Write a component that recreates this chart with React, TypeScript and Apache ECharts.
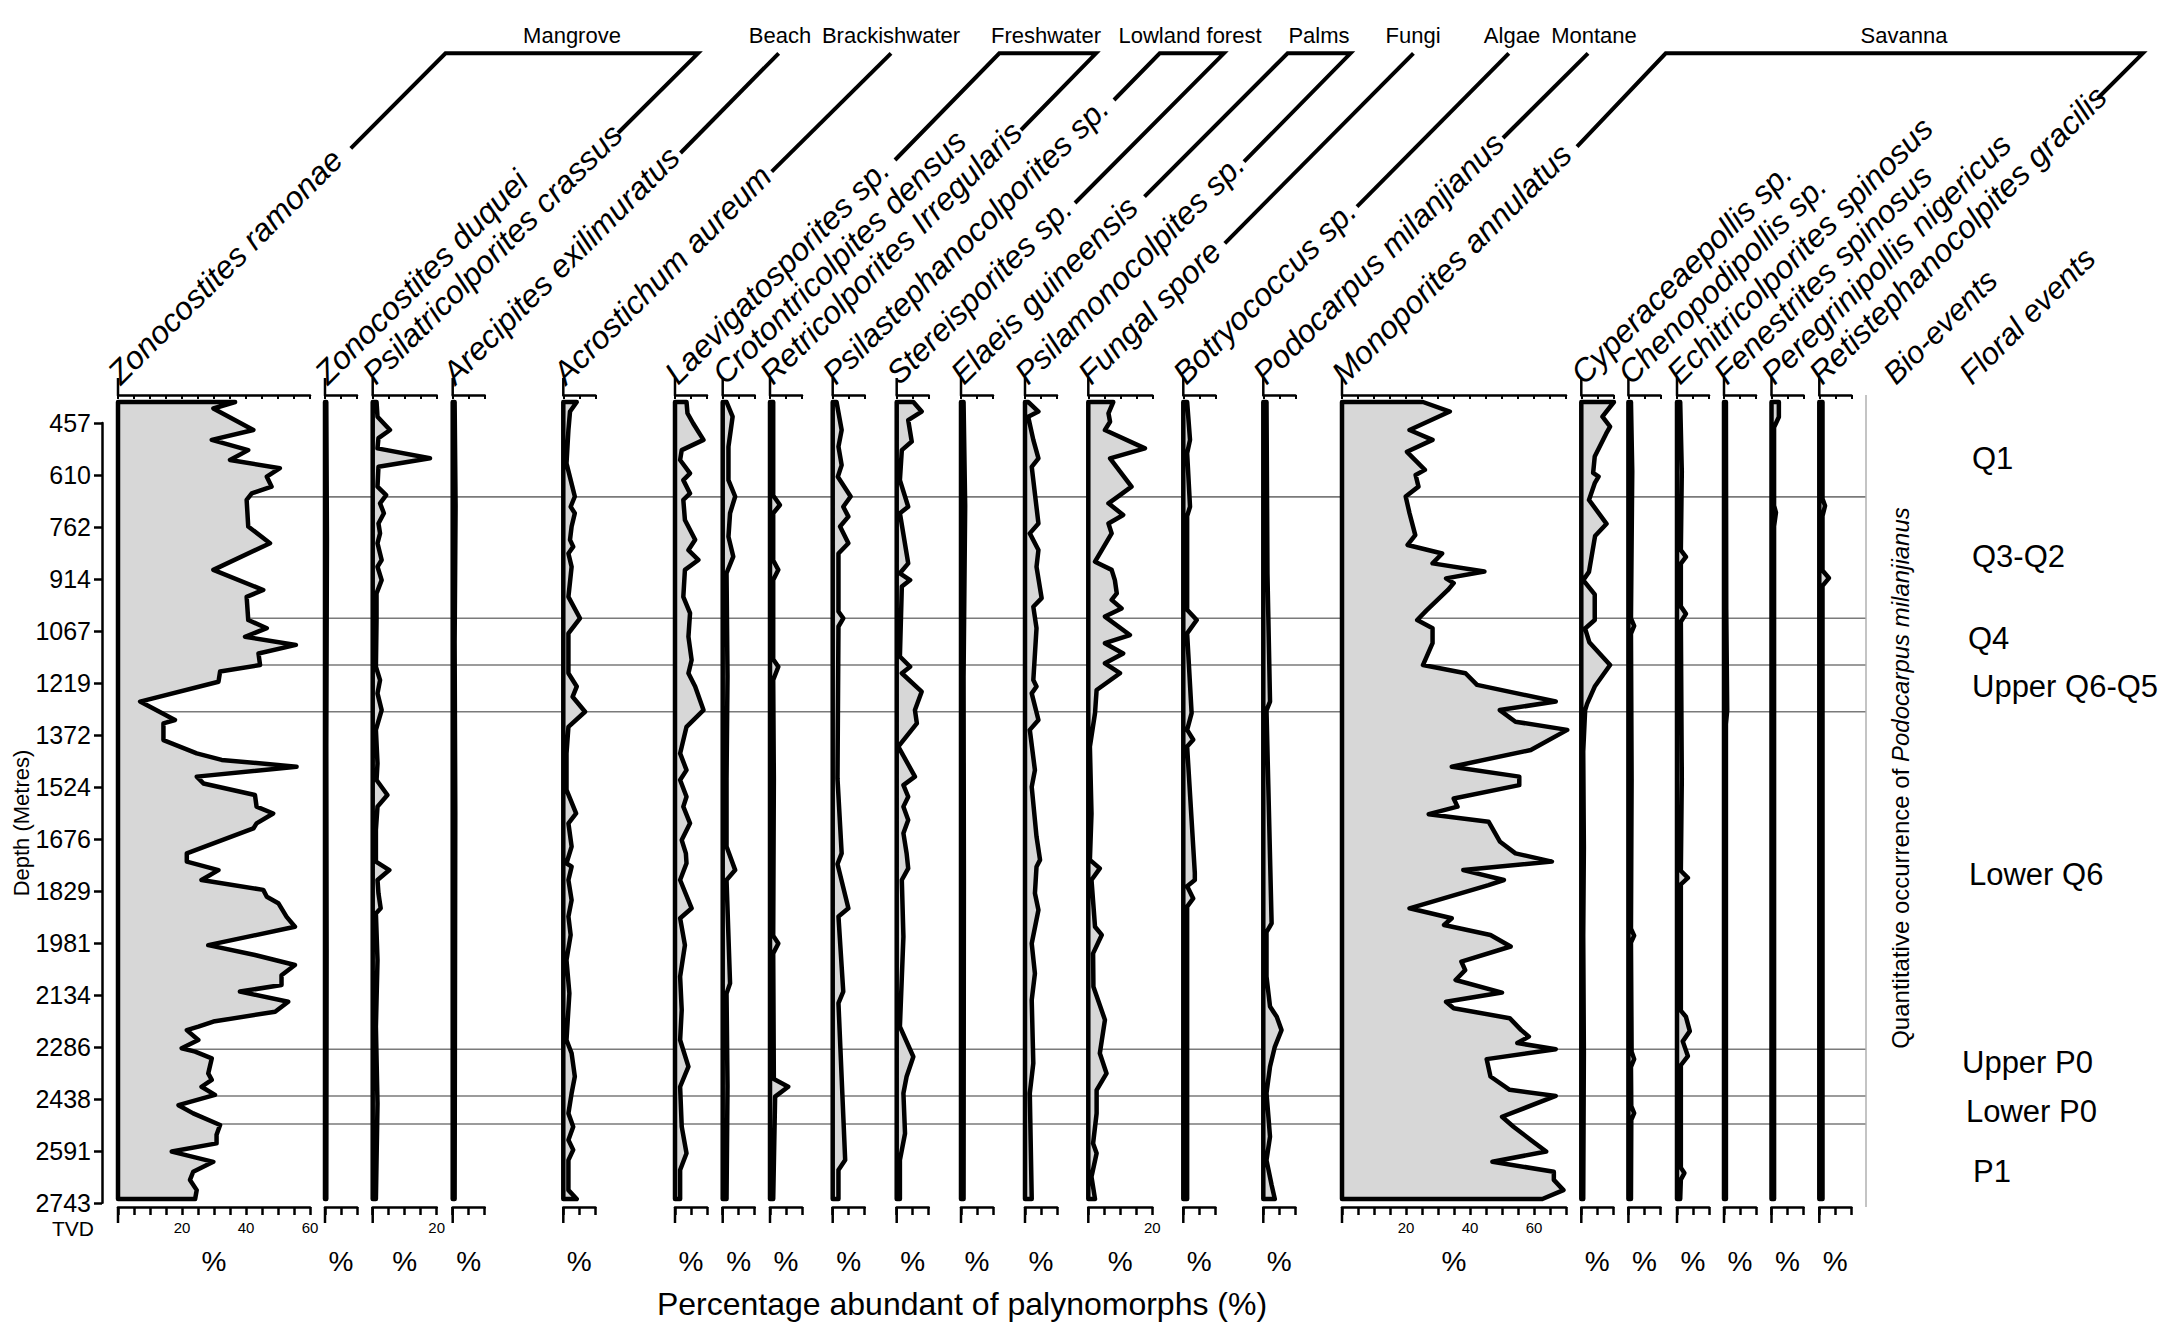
import React, { useEffect, useRef } from 'react';
import * as echarts from 'echarts';

// ---------------- DATA ----------------
const TAXA = [
  'Zonocostites ramonae', 'Zonocostites duquei', 'Psilatricolporites crassus', 'Arecipites exilimuratus',
  'Acrostichum aureum', 'Laevigatosporites sp.', 'Crotontricolpites densus', 'Retricolporites Irregularis',
  'Psilastephanocolporites sp.', 'Stereisporites sp.', 'Elaeis guineensis', 'Psilamonocolpites sp.',
  'Fungal spore', 'Botryococcus sp.', 'Podocarpus milanjianus', 'Monoporites annulatus',
  'Cyperaceaepollis sp.', 'Chenopodipollis sp.', 'Echitricolporites spinosus', 'Fenestrites spinosus',
  'Peregrinipollis nigericus', 'Retistephanocolpites gracilis',
];
const AXIS_MAX = [60, 10, 20, 10, 10, 10, 10, 10, 10, 10, 10, 10, 20, 10, 10, 70, 10, 10, 10, 10, 10, 10];

// [depth (m), percentage]
const zonocostitesRamonae = [[396,36.6],[415,29.8],[478,42.3],[507,29.3],[537,40.7],[566,35],[590,50.6],[615,46.5],[644,48],[664,41.8],[683,40.2],[761,40.7],[810,47.5],[888,29.8],[947,45.4],[967,40.2],[1035,40.7],[1059,46.5],[1084,39.7],[1108,55.6],[1133,43.9],[1167,44.4],[1186,31.9],[1216,31.4],[1274,6.9],[1328,17.8],[1338,14.2],[1387,14.2],[1426,24.6],[1445,32.4],[1465,55.8],[1494,24.6],[1514,26.7],[1548,42.8],[1582,43.3],[1602,48.5],[1631,43.3],[1646,42.3],[1719,21.5],[1743,21.5],[1768,31.4],[1797,26.1],[1826,45.4],[1846,46.5],[1865,50.1],[1905,52.7],[1934,55.3],[1988,28.2],[2017,42.8],[2046,55.3],[2076,51.1],[2105,51.1],[2124,38.1],[2154,53.2],[2183,49.1],[2212,29.8],[2227,25.1],[2237,21.5],[2266,25.1],[2290,19.9],[2300,24.1],[2320,29.3],[2364,28.2],[2383,29.3],[2403,26.1],[2427,30.3],[2457,18.9],[2481,23.5],[2515,31.9],[2544,30.8],[2569,30.8],[2593,16.8],[2623,29.8],[2652,23.5],[2676,22.5],[2706,24.6],[2732,24.1]];
const zonocostitesDuquei = [[396,0.4],[800,0.6],[1400,0.4],[2000,0.5],[2732,0.4]];
const psilatricolporitesCrassus = [[396,1.2],[439,1.5],[478,5.4],[502,1.8],[532,1.5],[561,17.9],[586,1.8],[644,1.5],[669,4.2],[693,2.3],[722,3.5],[752,1.8],[781,2.3],[810,1.5],[859,2.8],[879,1.5],[918,2.8],[957,1.2],[1035,1.2],[1172,1.0],[1211,2.3],[1250,1.5],[1299,2.8],[1357,1.0],[1455,1.5],[1504,1.2],[1548,4.6],[1582,1.5],[1650,1.0],[1743,1.0],[1768,5.2],[1797,1.5],[1836,1.8],[1880,2.5],[1895,1.0],[2032,1.5],[2227,1.0],[2452,1.5],[2732,1.0]];
const arecipitesExilimuratus = [[396,0.6],[700,0.9],[1100,0.6],[1600,0.8],[2732,0.6]];
const acrostichumAureum = [[396,4.2],[424,2.1],[478,1.6],[576,1],[673,3.6],[703,2.3],[722,3.6],[761,2.6],[800,2.1],[820,3.1],[840,1.6],[879,2.6],[967,1.6],[1030,5.2],[1074,1.6],[1191,1.6],[1230,4.2],[1260,2.9],[1304,6.8],[1348,1.6],[1426,1],[1533,1],[1602,4],[1631,1.6],[1699,2.6],[1748,1],[1758,2.6],[1797,1.6],[1856,2.6],[1904,1.6],[1958,2.3],[2032,1],[2129,1.9],[2266,1],[2305,2.6],[2373,3.6],[2422,2.6],[2481,1.6],[2520,3.1],[2559,1.6],[2588,3.1],[2618,1.6],[2706,1.6],[2732,4.2]];
const laevigatosporites = [[396,3.6],[429,3.9],[459,5.7],[507,8.9],[537,2.1],[566,1.6],[605,4.7],[625,2.6],[664,4.7],[683,2.6],[742,3.1],[800,6.3],[830,4.2],[859,7.3],[888,3.1],[967,2.6],[1015,4.7],[1084,4.2],[1152,5.2],[1191,4.2],[1230,6.3],[1299,8.9],[1348,3.6],[1426,1.6],[1475,3.6],[1504,1.6],[1553,3.6],[1582,2.6],[1631,4.7],[1680,2.1],[1719,3.4],[1748,3.6],[1797,1.6],[1880,5.2],[1909,1.6],[1988,3.1],[2080,1.6],[2178,2.1],[2266,1.6],[2344,4.2],[2403,1.6],[2520,2.1],[2598,3.6],[2647,1.6],[2732,1.6]];
const crotontricolpitesDensus = [[396,1.2],[439,3.1],[527,1.8],[625,1.8],[673,3.9],[722,2.3],[791,1.8],[849,3.3],[898,1.2],[1200,1.5],[1500,1.2],[1699,1.2],[1768,3.9],[1797,1.2],[2100,2.3],[2130,1.2],[2400,1.5],[2732,1.2]];
const retricolporitesIrregularis = [[396,1],[670,1],[698,3.1],[722,1],[860,1],[888,2.6],[918,1],[1150,1],[1172,2.6],[1211,1],[1500,1.2],[1960,1],[1983,2.6],[2012,1],[2380,1.2],[2403,5.7],[2432,1.6],[2732,1]];
const psilastephanocolporites = [[396,1.2],[478,2.8],[527,1.8],[581,2.8],[615,1.6],[673,5.6],[703,3.3],[732,4.9],[761,2.3],[810,4.9],[840,1.8],[1010,1.8],[1030,3.3],[1054,1.8],[1500,1.5],[1719,2.8],[1750,1.5],[1880,4.9],[1904,1.8],[2124,3.3],[2158,1.8],[2618,3.9],[2647,1.8],[2732,1.8]];
const stereisporites = [[396,5.2],[424,7.8],[449,3.6],[512,4.7],[537,1.6],[625,1],[703,3.6],[722,1],[869,3.6],[898,1],[918,4.2],[937,1.6],[1142,1],[1172,4.2],[1191,1.6],[1245,7.8],[1299,5.7],[1338,6.3],[1406,0.5],[1494,5.7],[1519,2.1],[1553,3.6],[1582,2.1],[1621,3.6],[1660,2.1],[1719,3.1],[1763,3.6],[1797,1.6],[1963,2.1],[2227,1],[2315,5.2],[2373,3.1],[2422,2.1],[2540,2.6],[2618,1],[2732,1]];
const elaeisGuineensis = [[396,0.8],[700,1.3],[1200,0.8],[1800,0.9],[2732,0.8]];
const psilamonocolpites = [[396,1],[424,4.2],[439,1],[507,2.6],[561,4.2],[586,2.1],[752,4.2],[781,1.5],[830,4.2],[879,3.6],[971,5.2],[996,2.6],[1059,3.6],[1211,2.6],[1230,3.6],[1250,2.1],[1328,4.2],[1357,1.5],[1475,3.1],[1524,2.1],[1670,3.6],[1738,4.7],[1758,3.6],[1836,3.1],[1885,4.2],[1983,2.1],[2071,3.1],[2149,2.1],[2334,2.6],[2422,1.5],[2732,2.1]];
const fungalSpore = [[396,7.8],[429,6.3],[454,6.8],[478,5.2],[532,17.7],[561,6.8],[644,13.5],[669,9.9],[693,6.3],[727,10.9],[752,6.3],[781,7.3],[864,2.1],[888,7.3],[918,8.3],[957,8.9],[976,7.3],[1001,10.4],[1025,5.2],[1079,13],[1103,5.2],[1133,10.9],[1162,5.2],[1191,9.9],[1240,2.6],[1308,2.1],[1406,0.5],[1602,1],[1738,0.5],[1763,3.6],[1797,1],[1934,2.1],[1958,4.2],[2012,1.5],[2110,1.6],[2207,5.2],[2305,3.6],[2364,5.7],[2413,2.6],[2481,2.6],[2569,1.5],[2598,2.6],[2667,1],[2732,2.1]];
const botryococcus = [[396,1.2],[507,2.1],[546,1.2],[703,2.1],[730,1.2],[1005,1.2],[1035,4.2],[1074,1.2],[1308,2.6],[1357,1.2],[1386,3.1],[1406,1.2],[1777,3.6],[1797,3.6],[1815,1.2],[1851,3.1],[1875,1.2],[2732,1.2]];
const podocarpusMilanjianus = [[396,1],[900,1.3],[1274,2.1],[1300,1],[1924,2.6],[1950,1],[2080,1],[2168,2.1],[2198,4.2],[2237,5.7],[2286,3.6],[2344,2.1],[2422,1],[2549,2.1],[2618,1],[2691,2.6],[2732,3.6]];
const monoporitesAnnulatus = [[396,25.3],[424,33.7],[478,21.1],[507,28.3],[542,20.3],[595,25.9],[610,23],[644,23.9],[673,19.9],[722,21.1],[786,22.9],[815,20.5],[840,31.3],[869,28.3],[893,44.5],[913,32.5],[927,34.9],[947,33.1],[1006,26.5],[1035,23.5],[1059,28.3],[1103,28.3],[1167,25.3],[1191,38.6],[1225,42.2],[1274,66.8],[1299,49.3],[1333,54.2],[1357,70.4],[1416,59],[1465,34.3],[1494,55.4],[1519,55.4],[1558,34.9],[1582,36.1],[1604,27.1],[1626,45.8],[1685,49.4],[1719,54.2],[1743,65.6],[1768,37.9],[1797,50.6],[1812,45.8],[1880,21.1],[1909,34.3],[1929,31.9],[1958,46.4],[1992,52.7],[2036,37.3],[2061,38.5],[2090,35.5],[2127,50],[2154,32.5],[2173,34.9],[2202,52.4],[2237,56],[2256,58.4],[2275,54.8],[2293,66.8],[2322,45.2],[2373,46.4],[2412,52.4],[2430,66.8],[2491,50],[2520,53.6],[2559,59],[2593,63.8],[2623,47],[2652,66.2],[2676,66.2],[2706,69.2],[2732,62.6]];
const cyperaceaepollis = [[396,10.2],[439,6.6],[468,9.0],[488,7.8],[556,4.2],[604,3.7],[615,5.4],[634,4.2],[683,2.4],[753,7.9],[789,4.3],[894,2.4],[918,0.6],[960,4.2],[1035,4.2],[1060,1.2],[1100,2.5],[1167,9.0],[1230,4.2],[1281,1.8],[1299,1.2],[1420,0.6],[1700,0.8],[1960,0.6],[2300,0.8],[2732,0.6]];
const chenopodipollis = [[396,0.8],[600,1.2],[1030,0.8],[1052,1.8],[1075,0.8],[1500,1],[1940,0.8],[1960,1.8],[1980,0.8],[2300,1],[2322,1.8],[2345,0.8],[2460,0.9],[2480,1.8],[2500,0.9],[2732,0.8]];
const echitricolporites = [[396,1],[600,1.5],[830,1.2],[850,2.8],[870,1.2],[995,1.2],[1017,2.8],[1040,1.2],[1500,1.5],[1770,1.2],[1791,3.4],[1810,1.2],[2180,1.2],[2198,2.8],[2240,4],[2270,1.8],[2313,3.4],[2340,1.2],[2640,1.2],[2656,2.3],[2675,1.2],[2732,1]];
const fenestrites = [[396,0.6],[1000,0.7],[1300,1],[1340,0.6],[2732,0.6]];
const peregrinipollis = [[396,2.3],[440,2.3],[470,0.8],[700,0.8],[720,1.4],[760,0.8],[2732,0.8]];
const retistephanocolpites = [[396,1],[680,1],[700,1.8],[730,1],[890,1],[912,3],[935,1],[1500,1],[2732,1]];

const SERIES_DATA = [
  zonocostitesRamonae, zonocostitesDuquei, psilatricolporitesCrassus, arecipitesExilimuratus,
  acrostichumAureum, laevigatosporites, crotontricolpitesDensus, retricolporitesIrregularis,
  psilastephanocolporites, stereisporites, elaeisGuineensis, psilamonocolpites,
  fungalSpore, botryococcus, podocarpusMilanjianus, monoporitesAnnulatus,
  cyperaceaepollis, chenopodipollis, echitricolporites, fenestrites,
  peregrinipollis, retistephanocolpites,
];

const DEPTH_TICKS = ['457', '610', '762', '914', '1067', '1219', '1372', '1524', '1676', '1829', '1981', '2134', '2286', '2438', '2591', '2743'];
const EVENT_DEPTHS = [674, 1030, 1167, 1304, 2293, 2430, 2512];
const EVENT_LABELS = ['Q1', 'Q3-Q2', 'Q4', 'Upper Q6-Q5', 'Lower Q6', 'Upper P0', 'Lower P0', 'P1'];

const GROUPS = ['Mangrove', 'Beach', 'Brackishwater', 'Freshwater', 'Lowland forest', 'Palms', 'Fungi', 'Algae', 'Montane', 'Savanna'];

// ---------------- LAYOUT ----------------
const PANEL_LEFT = [118, 325, 372.7, 452.7, 563.3, 675, 722.7, 770, 832.7, 896.7, 961, 1025, 1088.3, 1183.3, 1263.3, 1342, 1581.3, 1628.4, 1677, 1724, 1771.5, 1819.3];
const PX_PER_PCT = 3.2;
const GRID_TOP = 402;
const GRID_H = 797;
const Y_MIN = 396;
const Y_MAX = 2732;
const RIGHT_EDGE = 1866;
const FONT = '"Liberation Sans", Arial, sans-serif';

const GROUP_LABEL_X = [572, 780, 891, 1046, 1190, 1319, 1413, 1512, 1594, 1904];
const GROUP_LINES = [
  [[350.8, 148.3], [445.5, 53.3], [698, 53.3], [618, 133]],
  [[680.5, 153], [778.7, 53.3]],
  [[771.7, 171.7], [891, 53.3]],
  [[895, 160], [999.3, 53.3], [1096, 53.3], [1021, 130]],
  [[1114, 100], [1159.7, 53.3], [1223.9, 53.3], [1075, 203]],
  [[1144.5, 196.7], [1287.6, 53.3], [1350.5, 53.3], [1244, 161.7]],
  [[1224.8, 243.3], [1413.4, 53.3]],
  [[1357, 206.7], [1508.8, 53.3]],
  [[1503, 138], [1588, 53.3]],
  [[1577, 146.7], [1665.7, 53.3], [2142.8, 53.3], [2098, 98]],
];
const EVENT_LABEL_POS = [[1972, 458], [1972, 556], [1968, 638], [1972, 686], [1969, 874], [1962, 1062], [1966, 1111], [1973, 1171]];

function yOf(d: number) {
  return GRID_TOP + ((d - Y_MIN) / (Y_MAX - Y_MIN)) * GRID_H;
}

function buildOption() {
  const n = TAXA.length;
  const grid: any[] = [];
  const xAxis: any[] = [];
  const yAxis: any[] = [];
  const series: any[] = [];
  const graphic: any[] = [];

  const axisLineStyle = { color: '#000', width: 2.5 };

  for (let i = 0; i < n; i++) {
    const w = AXIS_MAX[i] * PX_PER_PCT;
    grid.push({ left: PANEL_LEFT[i], top: GRID_TOP, width: w, height: GRID_H });
    xAxis.push({
      type: 'value', gridIndex: i, min: 0, max: AXIS_MAX[i], interval: 5, position: 'bottom', offset: 8,
      axisLine: { show: true, onZero: false, lineStyle: axisLineStyle },
      axisTick: { show: true, length: 8, lineStyle: axisLineStyle },
      axisLabel: {
        show: AXIS_MAX[i] >= 20, margin: 13, fontSize: 15, color: '#000', fontFamily: FONT,
        formatter: (v: number) => (v > 0 && v % 20 === 0 ? String(v) : ''),
      },
      splitLine: { show: false },
    });
    xAxis.push({
      type: 'value', gridIndex: i, min: 0, max: AXIS_MAX[i], interval: 5, position: 'top', offset: 7,
      axisLine: { show: true, onZero: false, lineStyle: axisLineStyle },
      axisTick: { show: true, inside: true, length: 4, lineStyle: { color: '#000', width: 2 } },
      axisLabel: { show: false },
      splitLine: { show: false },
    });
    yAxis.push({ type: 'value', gridIndex: i, min: Y_MIN, max: Y_MAX, inverse: true, show: false });

    const pts = SERIES_DATA[i];
    series.push({
      type: 'custom', xAxisIndex: 2 * i, yAxisIndex: i, z: 5, silent: true, clip: false,
      data: pts.map(([d, v]) => [v, d]),
      renderItem: (params: any, api: any) => {
        if (params.dataIndex !== 0) return { type: 'group', children: [] };
        const top = pts[0][0];
        const bottom = pts[pts.length - 1][0];
        const points = [api.coord([0, top])]
          .concat(pts.map(([d, v]) => api.coord([v, d])))
          .concat([api.coord([0, bottom])]);
        return {
          type: 'polygon',
          shape: { points },
          style: { fill: '#d7d7d7', stroke: '#000', lineWidth: 4.5, lineJoin: 'round' },
        };
      },
    });

    const x0 = PANEL_LEFT[i];
    graphic.push({ type: 'line', z: 10, shape: { x1: x0, y1: 378, x2: x0, y2: 395 }, style: { stroke: '#000', lineWidth: 2.5 } });
    graphic.push({ type: 'line', z: 10, shape: { x1: x0, y1: 1207, x2: x0, y2: 1223 }, style: { stroke: '#000', lineWidth: 2.5 } });
    graphic.push({
      type: 'text', z: 10, x: x0 + 6.5, y: 389.5, rotation: Math.PI / 4,
      style: { text: TAXA[i], font: `italic 32px ${FONT}`, fill: '#000', textAlign: 'left', textVerticalAlign: 'bottom' },
    });
    graphic.push({
      type: 'text', z: 10, x: x0 + w / 2, y: 1261,
      style: { text: '%', font: `28px ${FONT}`, fill: '#000', textAlign: 'center', textVerticalAlign: 'middle' },
    });
  }

  // depth axis grid
  const depthGrid = n;
  grid.push({ left: 102, top: yOf(457.2), width: 1, height: yOf(2743.2) - yOf(457.2) });
  xAxis.push({ type: 'value', gridIndex: depthGrid, show: false, min: 0, max: 1 });
  yAxis.push({
    type: 'value', gridIndex: depthGrid, min: 457.2, max: 2743.2, interval: 152.4, inverse: true, position: 'left',
    axisLine: { show: true, onZero: false, lineStyle: axisLineStyle },
    axisTick: { show: true, length: 8, lineStyle: axisLineStyle },
    axisLabel: {
      margin: 11, fontSize: 25, color: '#000', fontFamily: FONT,
      formatter: (v: number, idx: number) => DEPTH_TICKS[idx] ?? String(Math.round(v)),
    },
    splitLine: { show: false },
  });

  // event lines grid
  const evGrid = n + 1;
  grid.push({ left: PANEL_LEFT[0], top: GRID_TOP, width: RIGHT_EDGE - PANEL_LEFT[0], height: GRID_H });
  xAxis.push({ type: 'value', gridIndex: evGrid, show: false, min: 0, max: 1 });
  yAxis.push({ type: 'value', gridIndex: evGrid, show: false, min: Y_MIN, max: Y_MAX, inverse: true });
  series.push({
    type: 'custom', xAxisIndex: xAxis.length - 1, yAxisIndex: yAxis.length - 1, z: 1, silent: true,
    data: EVENT_DEPTHS.map((d) => [0, d]),
    renderItem: (params: any, api: any) => {
      const d = api.value(1);
      const a = api.coord([0, d]);
      const b = api.coord([1, d]);
      return { type: 'line', shape: { x1: a[0], y1: a[1], x2: b[0], y2: b[1] }, style: { stroke: '#7a7a7a', lineWidth: 1.6 } };
    },
  });

  graphic.push({ type: 'line', z: 10, shape: { x1: RIGHT_EDGE, y1: 395, x2: RIGHT_EDGE, y2: 1207 }, style: { stroke: '#b0b0b0', lineWidth: 1.5 } });

  GROUP_LINES.forEach((pts) => {
    graphic.push({ type: 'polyline', z: 10, shape: { points: pts }, style: { stroke: '#000', lineWidth: 4, fill: 'none', lineJoin: 'miter' } });
  });
  GROUPS.forEach((g, i) => {
    graphic.push({
      type: 'text', z: 10, x: GROUP_LABEL_X[i], y: 35,
      style: { text: g, font: `22px ${FONT}`, fill: '#000', textAlign: 'center', textVerticalAlign: 'middle' },
    });
  });

  [['Bio-events', 1896], ['Floral events', 1972]].forEach(([t, x]) => {
    graphic.push({
      type: 'text', z: 10, x: (x as number) + 3.5, y: 389.5, rotation: Math.PI / 4,
      style: { text: t, font: `italic 31px ${FONT}`, fill: '#000', textAlign: 'left', textVerticalAlign: 'bottom' },
    });
  });

  EVENT_LABELS.forEach((t, i) => {
    graphic.push({
      type: 'text', z: 10, x: EVENT_LABEL_POS[i][0], y: EVENT_LABEL_POS[i][1],
      style: { text: t, font: `31px ${FONT}`, fill: '#000', textAlign: 'left', textVerticalAlign: 'middle' },
    });
  });

  graphic.push({
    type: 'text', z: 10, x: 1900, y: 778, rotation: Math.PI / 2,
    style: {
      text: '{a|Quantitative occurrence of }{b|Podocarpus milanjianus}',
      rich: {
        a: { font: `24px ${FONT}`, fill: '#000' },
        b: { font: `italic 24px ${FONT}`, fill: '#000' },
      },
      fill: '#000', textAlign: 'center', textVerticalAlign: 'middle',
    },
  });

  graphic.push({
    type: 'text', z: 10, x: 21, y: 823, rotation: Math.PI / 2,
    style: { text: 'Depth (Metres)', font: `22px ${FONT}`, fill: '#000', textAlign: 'center', textVerticalAlign: 'middle' },
  });
  graphic.push({
    type: 'text', z: 10, x: 94, y: 1228,
    style: { text: 'TVD', font: `21px ${FONT}`, fill: '#000', textAlign: 'right', textVerticalAlign: 'middle' },
  });

  graphic.push({
    type: 'text', z: 10, x: 962, y: 1304,
    style: { text: 'Percentage abundant of palynomorphs (%)', font: `32px ${FONT}`, fill: '#000', textAlign: 'center', textVerticalAlign: 'middle' },
  });

  return {
    animation: false,
    backgroundColor: '#fff',
    textStyle: { fontFamily: FONT },
    grid, xAxis, yAxis, series, graphic,
  };
}

export default function App() {
  const ref = useRef<HTMLDivElement>(null);
  useEffect(() => {
    document.body.style.margin = '0';
    const chart = echarts.init(ref.current as HTMLDivElement, null, { renderer: 'svg' });
    chart.setOption(buildOption() as any);
    return () => chart.dispose();
  }, []);
  return <div ref={ref} style={{ width: 2160, height: 1323, background: '#fff' }} />;
}
